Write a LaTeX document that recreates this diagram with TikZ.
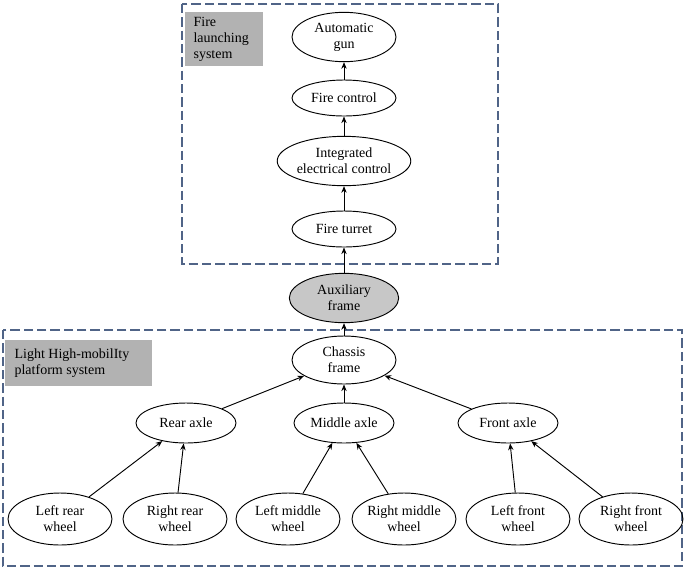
\documentclass[tikz,border=0pt]{standalone}
\usepackage{fontspec}
\setmainfont{Liberation Serif}
\usetikzlibrary{shapes.geometric,arrows.meta}
\definecolor{boxblue}{RGB}{80,100,135}
\begin{document}
\begin{tikzpicture}[x=0.75pt,y=-0.75pt,
  el/.style={ellipse,draw,line width=0.7pt,minimum width=#1,minimum height=36pt*0.75,inner sep=0pt,align=center,font=\fontsize{10.5}{12}\selectfont},
  el/.default=78pt,
  tall/.style={minimum height=37pt},
  box/.style={draw=boxblue,line width=0.8pt,dash pattern=on 7pt off 3pt},
  lab/.style={fill=black!30,align=left,anchor=north west,inner sep=0pt,font=\fontsize{10.5}{12}\selectfont},
  arr/.style={-{Stealth[length=5pt,width=4pt]},line width=0.7pt}]
\useasboundingbox (0,0) rectangle (685,569);
\draw[box] (182,4) rectangle (498,264);
\draw[box] (3,330) rectangle (682,566);
\node[lab,minimum width=58.5pt,minimum height=40.5pt,text width=54pt] at (185,12) {\hspace*{4pt}\parbox{50pt}{Fire\\launching\\system}};
\node[lab,minimum width=110pt,minimum height=34pt] at (5,340) {\hspace*{4pt}\parbox{100pt}{Light High-mobilIty\\platform system}};
\node[el,tall] (gun) at (344,37) {Automatic\\gun};
\node[el] (fc) at (344,98) {Fire control};
\node[el=98pt,tall] (iec) at (344,161) {Integrated\\electrical control};
\node[el] (ft) at (344,229) {Fire turret};
\node[el=82pt,tall,fill=black!22] (aux) at (344,298) {Auxiliary\\frame};
\node[el,minimum height=36pt] (ch) at (344,360) {Chassis\\frame};
\node[el=75pt,minimum height=30pt] (ra) at (186,423) {Rear axle};
\node[el=75pt,minimum height=30pt] (ma) at (344,423) {Middle axle};
\node[el=75pt,minimum height=30pt] (fa) at (508,423) {Front axle};
\node[el,minimum height=39pt] (lrw) at (60,519) {Left rear\\wheel};
\node[el,minimum height=39pt] (rrw) at (175,519) {Right rear\\wheel};
\node[el,minimum height=39pt] (lmw) at (288,519) {Left middle\\wheel};
\node[el,minimum height=39pt] (rmw) at (404,519) {Right middle\\wheel};
\node[el,minimum height=39pt] (lfw) at (518,519) {Left front\\wheel};
\node[el,minimum height=39pt] (rfw) at (631,519) {Right front\\wheel};
\draw[arr] (fc) -- (gun);
\draw[arr] (iec) -- (fc);
\draw[arr] (ft) -- (iec);
\draw[arr] (aux) -- (ft);
\draw[arr] (ch) -- (aux);
\draw[arr] (ra) -- (ch);
\draw[arr] (ma) -- (ch);
\draw[arr] (fa) -- (ch);
\draw[arr] (lrw) -- (ra);
\draw[arr] (rrw) -- (ra);
\draw[arr] (lmw) -- (ma);
\draw[arr] (rmw) -- (ma);
\draw[arr] (lfw) -- (fa);
\draw[arr] (rfw) -- (fa);
\end{tikzpicture}
\end{document}
